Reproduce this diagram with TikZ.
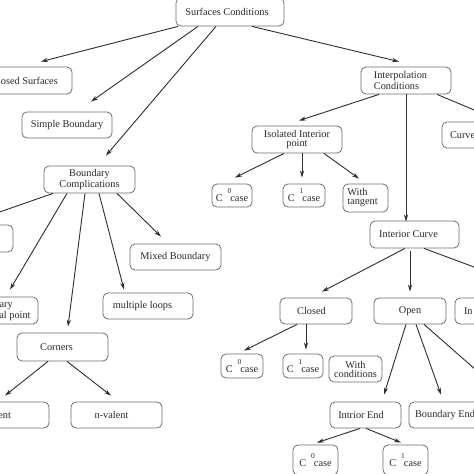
\documentclass[tikz,border=0pt]{standalone}
\usepackage{fontspec}
\setmainfont{Liberation Serif}
\usetikzlibrary{arrows.meta,calc}
\definecolor{boxc}{HTML}{6E6E6E}
\definecolor{arrc}{HTML}{2E2E2E}
\definecolor{txtc}{HTML}{2A2A2A}
\newcommand{\Cc}[1]{C\hspace{5pt}\rlap{\raisebox{8pt}{\fontsize{7.5}{7.5}\selectfont #1}}\hspace{2.7pt}case}
\newcommand{\pad}[1]{\rule{#1}{0pt}}
\begin{document}
\begin{tikzpicture}[x=1pt,y=-1pt,
  box/.style={draw=boxc, line width=0.8pt, rounded corners=5pt, inner sep=1pt, text=txtc, font=\fontsize{10.3}{9}\selectfont},
  arr/.style={draw=arrc, line width=0.9pt, -{Stealth[length=7pt,width=4.2pt]}}]
\useasboundingbox (0,0) rectangle (474,474);
\clip (0,0) rectangle (474,474);
\fill[white] (0,0) rectangle (474,474);

\node[box, minimum width=108pt, minimum height=28pt] (sc) at (230,12) {Surfaces Conditions\pad{6pt}};
\node[box, minimum width=95pt, minimum height=27pt] (cs) at (24.5,80.5) {Closed Surfaces};
\node[box, minimum width=90pt, minimum height=26pt] (sb) at (67,125) {Simple Boundary};
\node[box, minimum width=91pt, minimum height=27pt, align=center] (bc) at (89.5,179.5) {Boundary\\Complications};
\node[box, minimum width=90pt, minimum height=27pt, align=left] (ic) at (406,80.5) {Interpolation\pad{11pt}\\Conditions};
\node[box, text width=74pt, inner xsep=8pt, minimum height=26pt, align=left] (cv) at (487,135) {Curve};
\node[box, minimum width=90pt, minimum height=27pt, align=center] (iip) at (297,139.5) {Isolated Interior\\point};
\node[box, minimum width=40pt, minimum height=23pt] (c0a) at (232,195.5) {\Cc{0}};
\node[box, minimum width=42pt, minimum height=23pt] (c1a) at (304,195.5) {\Cc{1}};
\node[box, minimum width=45pt, minimum height=28pt, align=left] (wt) at (365.5,198) {With\\tangent\pad{6pt}};
\node[box, minimum width=89pt, minimum height=27pt] (icv) at (414.5,234.5) {Interior Curve\pad{12pt}};
\node[box, minimum width=72pt, minimum height=26pt] (cl) at (316,311) {Closed\pad{9pt}};
\node[box, minimum width=72pt, minimum height=26pt] (op) at (410,311) {Open};
\node[box, text width=54pt, inner xsep=9pt, minimum height=26pt, align=left] (inn) at (491,311) {In};
\node[box, minimum width=42pt, minimum height=24pt] (c0b) at (242,366) {\Cc{0}};
\node[box, minimum width=40pt, minimum height=24pt] (c1b) at (303,366) {\Cc{1}};
\node[box, minimum width=53pt, minimum height=26pt, align=center] (wc) at (355.5,369) {With\\conditions};
\node[box, minimum width=71pt, minimum height=26pt] (ie) at (365.5,415) {Intrior End\pad{9pt}};
\node[box, minimum width=72pt, minimum height=26pt] (be) at (445,415) {Boundary End};
\node[box, minimum width=45pt, minimum height=30pt] (c0c) at (315.5,460) {\Cc{0}};
\node[box, minimum width=45pt, minimum height=30pt] (c1c) at (405.5,460) {\Cc{1}};
\node[box, minimum width=80pt, minimum height=27pt] (lb) at (-27,238.5) {};
\node[box, minimum width=91pt, minimum height=27pt, align=center] (bip) at (-7.5,310.5) {Boundary\\with internal point};
\node[box, minimum width=90pt, minimum height=26pt] (ml) at (148,306) {multiple loops\pad{11pt}};
\node[box, minimum width=91pt, minimum height=26pt] (mb) at (175.5,257) {Mixed Boundary};
\node[box, minimum width=91pt, minimum height=28pt] (co) at (62.5,347) {Corners\pad{12pt}};
\node[box, minimum width=91pt, minimum height=26pt] (tv) at (3.5,415) {3-valent\pad{19pt}};
\node[box, minimum width=91pt, minimum height=26pt] (nv) at (116.5,415) {n-valent\pad{10pt}};
\coordinate (offb) at (500,391);

\draw[arr] ($(sc.south)+(-52,0)$) -- ($(cs.north)+(16.5,-5)$);
\draw[arr] ($(sc.south)+(-32,0)$) -- ($(sb.north)+(24,-10)$);
\draw[arr] ($(sc.south)+(-14,0)$) -- ($(bc.north)+(16.5,-10)$);
\draw[arr] ($(sc.south)+(22,0)$) -- ($(ic.north)+(-7,-5)$);
\draw[arr] ($(ic.south)+(-27,0)$) -- ($(iip.north)+(2,-5)$);
\draw[arr] (ic.south) -- ($(icv.north)+(-8.5,1)$);
\draw[arr] ($(ic.south)+(31,0)$) -- ($(cv.north)+(3,-5)$);
\draw[arr] ($(iip.south)+(-13,0)$) -- ($(c0a.north)+(3,-6)$);
\draw[arr] ($(iip.south)+(5,0)$) -- ($(c1a.north)+(-2,-6)$);
\draw[arr] ($(iip.south)+(27,0)$) -- ($(wt.north)+(-6.5,-5)$);
\draw[arr] ($(icv.south)+(-9.5,0)$) -- ($(cl.north)+(6,-6)$);
\draw[arr] ($(icv.south)+(-4.5,3)$) -- ($(op.north)+(0,-6)$);
\draw[arr] ($(icv.south)+(9.5,0)$) -- ($(inn.north)+(49,-6)$);
\draw[arr] ($(cl.south)+(-19,0)$) -- ($(c0b.north)+(2,-3)$);
\draw[arr] ($(cl.south)+(-10,0)$) -- ($(c1b.north)+(3,-4)$);
\draw[arr] ($(op.south)+(-4,0)$) -- ($(ie.north)+(18.5,-7)$);
\draw[arr] ($(op.south)+(6,0)$) -- ($(be.north)+(-4,-7)$);
\draw[arr] ($(op.south)+(14,0)$) -- (offb);
\draw[arr] ($(ie.south)+(-5.5,0)$) -- ($(c0c.north)+(1.5,-2)$);
\draw[arr] ($(ie.south)+(0.5,0)$) -- ($(c1c.north)+(-4.5,-2)$);
\draw[arr] ($(bc.south)+(-36.5,0)$) -- ($(lb.north)+(2,-4)$);
\draw[arr] ($(bc.south)+(-22.5,0)$) -- ($(bip.north)+(17.5,-7)$);
\draw[arr] ($(bc.south)+(-4.5,0)$) -- ($(co.north)+(5.5,-6)$);
\draw[arr] ($(bc.south)+(9.5,0)$) -- ($(ml.north)+(-24,-3)$);
\draw[arr] ($(bc.south)+(27.5,0)$) -- ($(mb.north)+(-14.5,-7)$);
\draw[arr] ($(co.south)+(-14.5,0)$) -- ($(tv.north)+(1.5,-6)$);
\draw[arr] ($(co.south)+(4.5,0)$) -- ($(nv.north)+(-5.5,-6)$);
\end{tikzpicture}
\end{document}
